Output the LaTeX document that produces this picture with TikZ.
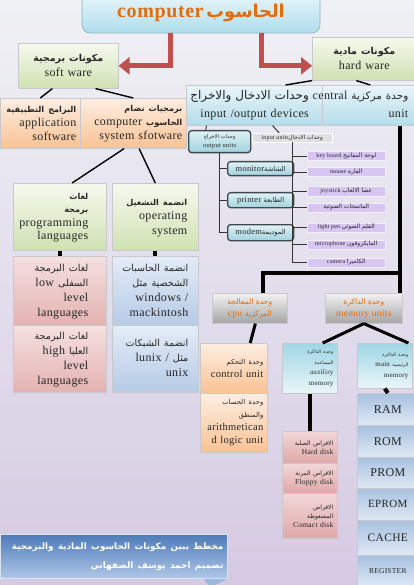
\documentclass[tikz,border=0pt]{standalone}
\usepackage{fontspec}
\usepackage{xcolor}
\usetikzlibrary{arrows.meta}
\setmainfont{Liberation Serif}[LetterSpace=3]
\newfontfamily\arfont{DejaVu Sans}[Script=Arabic,Scale=0.8]
\newfontfamily\arbfont{DejaVu Sans}[Script=Arabic,Scale=0.68]
\TeXXeTstate=1
\newcommand{\artxt}[1]{{\arfont\beginR #1\endR}}
\newcommand{\arbf}[1]{{\arbfont\bfseries\beginR #1\endR}}
\newcommand{\fsz}[2]{\fontsize{#1}{#2}\selectfont}
\newcommand{\rl}[2]{\begin{tabular}{@{}r@{\hspace{#1pt}}}#2\end{tabular}}

\definecolor{bgtop}{RGB}{240,241,245}
\definecolor{bgmid}{RGB}{226,222,236}
\definecolor{bgbot}{RGB}{214,202,226}
\definecolor{ttltop}{RGB}{232,246,251}
\definecolor{ttlbot}{RGB}{176,221,236}
\definecolor{ttltext}{RGB}{228,108,10}
\definecolor{arrred}{RGB}{192,80,77}
\definecolor{boxedge}{RGB}{200,200,205}
\definecolor{grntop}{RGB}{246,249,238}
\definecolor{grnbot}{RGB}{208,225,178}
\definecolor{orgtop}{RGB}{253,238,226}
\definecolor{orgbot}{RGB}{249,194,148}
\definecolor{bluetop}{RGB}{234,245,250}
\definecolor{bluebot}{RGB}{180,220,234}
\definecolor{pnktop}{RGB}{245,224,224}
\definecolor{pnkbot}{RGB}{228,178,178}
\definecolor{wintop}{RGB}{228,236,247}
\definecolor{winbot}{RGB}{182,203,230}
\definecolor{tealtop}{RGB}{224,242,246}
\definecolor{tealbot}{RGB}{160,210,222}
\definecolor{tealedge}{RGB}{62,72,78}
\definecolor{purp}{RGB}{216,198,242}
\definecolor{greytop}{RGB}{242,242,242}
\definecolor{greybot}{RGB}{165,165,165}
\definecolor{cyantop}{RGB}{160,214,228}
\definecolor{cyanbot}{RGB}{234,246,249}
\definecolor{memtop}{RGB}{168,193,224}
\definecolor{membot}{RGB}{224,233,245}
\definecolor{disktop}{RGB}{242,214,214}
\definecolor{diskbot}{RGB}{224,168,170}
\definecolor{calltop}{RGB}{78,122,186}
\definecolor{callbot}{RGB}{176,199,231}

\tikzset{
  boxbase/.style={anchor=north west, draw=boxedge, line width=0.6pt, inner xsep=4pt, inner ysep=1pt, align=right, text=black!85},
  grnbox/.style={boxbase, top color=grntop, bottom color=grnbot},
  orgbox/.style={boxbase, top color=orgtop, bottom color=orgbot},
  bluebox/.style={boxbase, top color=bluetop, bottom color=bluebot},
  pnkbox/.style={boxbase, top color=pnktop, bottom color=pnkbot},
  winbox/.style={boxbase, top color=wintop, bottom color=winbot},
  greybox/.style={boxbase, top color=greytop, bottom color=greybot, align=center, text=ttltext},
  cyanbox/.style={boxbase, top color=cyantop, bottom color=cyanbot},
  membox/.style={boxbase, top color=memtop, bottom color=membot, align=center, minimum width=61pt},
  diskbox/.style={boxbase, top color=disktop, bottom color=diskbot, text width=47pt, font=\fsz{7.5}{9}},
  tealbox/.style={anchor=north west, draw=tealedge, line width=1.3pt, rounded corners=3pt, top color=tealtop, bottom color=tealbot, inner sep=1pt, align=center, text=black!85},
  itembox/.style={anchor=north west, fill=purp, draw=white!70!purp, line width=0.5pt, minimum width=78pt, minimum height=9pt, inner sep=0pt, font=\fsz{6}{7}, text=black!85},
  conn/.style={draw=black, line width=1.4pt},
  treeline/.style={draw=black!80, line width=1pt},
  thickbar/.style={draw=black, line width=4pt},
  redarrow/.style={draw=arrred, line width=5pt, -{Triangle[width=17pt,length=11pt]}},
}

\begin{document}
\begin{tikzpicture}[x=1pt,y=-1pt,thick]
\useasboundingbox (0,0) rectangle (414,585);
\clip (0,0) rectangle (414,585);
%background
\shade[top color=bgtop, bottom color=bgbot, middle color=bgmid] (0,0) rectangle (414,585);

%title
\node[draw=ttlbot!80!black, line width=0.6pt, rounded corners=8pt, top color=ttltop, bottom color=ttlbot, minimum width=238pt, minimum height=40pt, text=ttltext] (ttl) at (201,13) {{\fsz{20}{20}\bfseries computer} {\fsz{26}{20}\arbf{الحاسوب}}};

%software / hardware
\node[grnbox, text width=92pt, minimum height=45pt, align=center, font=\fsz{12}{15}] (soft) at (18,43) {{\fsz{14}{15}\arbf{مكونات برمجية}}\\soft ware};
\node[grnbox, text width=96pt, minimum height=43pt, align=center, font=\fsz{12}{15}] (hard) at (312,37) {{\fsz{14}{15}\arbf{مكونات مادية}}\\hard ware};
\coordinate (sl) at (170,33);
\coordinate (sr) at (261,33);
\draw[redarrow] (sl) |- (soft.east);
\draw[redarrow] (sr) |- (hard.west |- soft.east);

\node[orgbox, text width=72pt, minimum height=50pt, font=\fsz{12}{14}] (app) at (0,98) {\arbf{البرامج التطبيقية}\\application\\software};
\node[orgbox, text width=98pt, minimum height=50pt, font=\fsz{12}{14}] (sys) at (80,98) {\arbf{برمجيات نضام}\\computer \arbf{الحاسوب}\\system sfotware};
\draw[conn] (soft.235) -- (app.north);
\draw[conn] (soft.320) -- (sys.north);

\node[bluebox, text width=128pt, minimum height=40pt, font=\fsz{12}{18}] (iodev) at (186,85) {\rl{14}{{\fsz{15}{15}\artxt{وحدات الادخال والاخراج}}\\input /output devices}};
\node[bluebox, text width=88pt, minimum height=40pt, font=\fsz{12}{18}] (cent) at (322,85) {\rl{6}{\llap{central {\fsz{13}{13}\artxt{وحدة مركزية}}}\\unit}};
\draw[conn] (hard.south west) -- (iodev.33);
\draw[conn] (hard.250) -- (cent.north);

%languages and operating systems
\node[grnbox, text width=85pt, minimum height=67pt, font=\fsz{12}{13.5}] (prog) at (13,183) {\rl{14}{\arbf{لغات}\\\arbf{برمجة}\\programming\\languages}};
\node[grnbox, text width=78pt, minimum height=67pt, font=\fsz{12}{14.5}] (os) at (112,183) {\rl{7}{\arbf{انضمة التشغيل}\\operating\\system}};
\draw[conn] (sys.250) -- (prog.70);
\draw[conn] (sys.283) -- (os.north);

\node[pnkbox, text width=85pt, minimum height=69pt, font=\fsz{12}{15}] (low) at (13,256) {\rl{14}{\artxt{لغات البرمجة}\\low \artxt{السفلى}\\level\\languages}};
\node[pnkbox, text width=85pt, minimum height=67pt, font=\fsz{12}{15}] (high) at (13,325) {\rl{14}{\artxt{لغات البرمجة}\\high \artxt{العليا}\\level\\languages}};
\node[winbox, text width=78pt, minimum height=69pt, font=\fsz{12}{15}] (win) at (112,256) {\rl{6}{\artxt{انضمة الحاسبات}\\\artxt{الشخصية مثل}\\windows /\\mackintosh}};
\node[winbox, text width=78pt, minimum height=67pt, font=\fsz{12}{15}] (unx) at (112,325) {\rl{6}{\artxt{انضمة الشبكات}\\lunix / \artxt{مثل}\\unix}};
\draw[thickbar] (prog.south) -- (low.north);
\draw[thickbar] (os.south) -- (win.north);

%input / output units
\node[tealbox, minimum width=62pt, minimum height=22pt, font=\fsz{6.5}{9}] (out) at (188,130) {\artxt{وحدات الاخراج}\\output units};
\node[anchor=north west, fill=black!12, draw=white, line width=0.5pt, minimum width=80pt, minimum height=9pt, inner sep=0pt, font=\fsz{6}{7}, text=black!85] (inl) at (252,133) {input units{\fsz{7}{7}\artxt{وحدات الادخال}}};
\draw[treeline] (iodev.203) -- (out.140);
\draw[treeline] (iodev.312) -- (inl.160);

\node[tealbox, minimum width=66pt, minimum height=14pt, font=\fsz{8.5}{9}] (mon) at (227,161) {monitor\artxt{الشاشة}};
\node[tealbox, minimum width=66pt, minimum height=15pt, font=\fsz{8.5}{9}] (prn) at (227,192) {printer \artxt{الطابعة}};
\node[tealbox, minimum width=66pt, minimum height=16pt, font=\fsz{8.5}{9}] (mdm) at (227,224) {modem\artxt{الموديمة}};
\draw[treeline] (out.south) |- (mon.west);
\draw[treeline] (out.south) |- (prn.west);
\draw[treeline] (out.south) |- (mdm.west);

\node[itembox] (kb) at (307,151.5) {key board {\fsz{7.5}{7}\artxt{لوحة المفاتيح}}};
\node[itembox] (mouse) at (307,167.5) {mouse {\fsz{7.5}{7}\artxt{الفارة}}};
\node[itembox] (joy) at (307,186.5) {joystick {\fsz{7.5}{7}\artxt{عصا الالعاب}}};
\node[itembox] (scan) at (307,202.5) {{\fsz{7.5}{7}\artxt{الماسحات الضوئية}}};
\node[itembox] (pen) at (307,222.5) {light pen {\fsz{7.5}{7}\artxt{القلم الضوئي}}};
\node[itembox] (mic) at (307,239.5) {microphone {\fsz{7.5}{7}\artxt{المايكروفون}}};
\node[itembox] (cam) at (307,257.5) {camera {\fsz{7.5}{7}\artxt{الكاميرا}}};
\draw[treeline] (inl.south) |- (kb.west);
\draw[treeline] (inl.south) |- (mouse.west);
\draw[treeline] (inl.south) |- (joy.west);
\draw[treeline] (inl.south) |- (scan.west);
\draw[treeline] (inl.south) |- (pen.west);
\draw[treeline] (inl.south) |- (mic.west);
\draw[treeline] (inl.south) |- (cam.west);

%central unit
\node[greybox, minimum width=75pt, minimum height=30pt, font=\fsz{9.5}{12}] (cpu) at (212,293) {\artxt{وحدة المعالجة}\\cpu \artxt{المركزية}};
\node[greybox, minimum width=77pt, minimum height=30pt, font=\fsz{9.5}{12}] (mem) at (325,293) {\artxt{وحدة الذاكرة}\\memory units};
\coordinate (cj) at (400,273);
\draw[thickbar] (cent.south -| cj) -- (mem.north -| cj);
\draw[thickbar] (cj) -| (cpu.50);

\node[orgbox, text width=59pt, minimum height=50pt, font=\fsz{10.5}{13}] (ctrl) at (200,343) {{\fsz{8.5}{8.5}\artxt{وحدة التحكم}}\\control unit};
\node[orgbox, text width=59pt, minimum height=59pt, font=\fsz{10.5}{13}] (alu) at (200,393) {{\fsz{8.5}{8.5}\artxt{وحدة الحساب}}\\{\fsz{8.5}{8.5}\artxt{والمنطق}}\\arithmetican\\d logic unit};
\draw[conn, line width=3pt] (cpu.290) -- (ctrl.57);

\node[cyanbox, text width=47pt, minimum height=50pt, font=\fsz{7}{10.5}] (aux) at (282,343) {{\fsz{5.8}{5.8}\artxt{وحدة الذاكرة}}\\{\fsz{5.8}{5.8}\artxt{المساعدة}}\\auxiliry\\memory};
\node[cyanbox, text width=47pt, minimum height=45pt, font=\fsz{7}{10.5}] (main) at (357,343) {{\fsz{5.8}{5.8}\artxt{وحدة الذاكرة}}\\main {\fsz{5.8}{5.8}\artxt{الرئيسية}}\\memory};
\draw[conn, line width=3pt] (mem.south) -- (aux.63);
\draw[conn, line width=3pt] (mem.south) -- (main.44);

%storage
\node[diskbox, minimum height=32pt] (hdd) at (282,431) {\artxt{الاقراص الصلبة}\\Hard disk};
\node[diskbox, minimum height=30pt] (fdd) at (282,463) {\artxt{الاقراص المرنة}\\Floppy disk};
\node[diskbox, minimum height=45pt] (cd) at (282,493) {\artxt{الاقراص}\\\artxt{المضغوطة}\\Comact disk};
\draw[thickbar] (aux.south) -- (hdd.north);

\node[membox, minimum height=32pt, font=\fsz{12}{12}] (ram) at (357,393) {RAM};
\node[membox, minimum height=32pt, font=\fsz{12}{12}] (rom) at (357,425) {ROM};
\node[membox, minimum height=31pt, font=\fsz{12}{12}] (prom) at (357,457) {PROM};
\node[membox, minimum height=32pt, font=\fsz{11}{11}] (eprom) at (357,488) {EPROM};
\node[membox, minimum height=35pt, font=\fsz{11.5}{12}] (cache) at (357,520) {CACHE};
\node[membox, minimum height=32pt, font=\fsz{7.5}{8}] (reg) at (357,555) {REGISTER};
\draw[thickbar] (main.south) -- (ram.north);

%note
\node[anchor=north west, draw=white!80!calltop, line width=0.8pt, top color=calltop, bottom color=callbot, text width=219pt, minimum height=44pt, inner xsep=4pt, align=right, text=white, font=\fsz{13}{19}] (note) at (0,534) {\arbf{مخطط يبين مكونات الحاسوب المادية والبرمجية}\\\arbf{تصميم احمد يوسف الصفهاني}};
\fill[callbot!80!calltop] (note.south east) ++(-24,0) -- ++(6,9) -- (note.south east) -- cycle;
\end{tikzpicture}
\end{document}
